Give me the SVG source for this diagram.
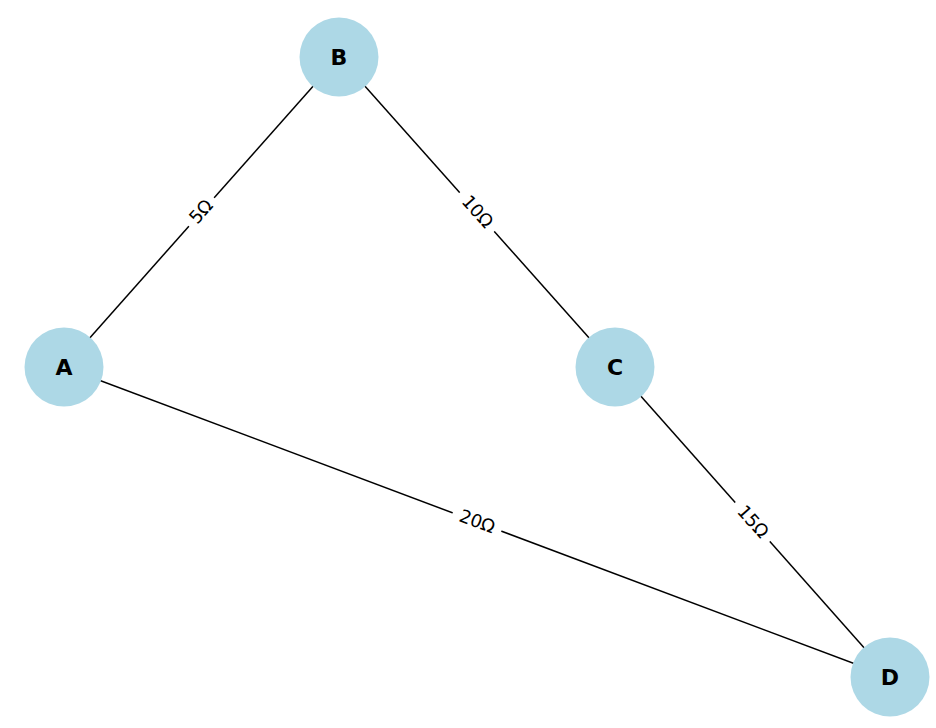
<svg xmlns="http://www.w3.org/2000/svg" width="936" height="728" viewBox="0 0 936 728">
<style>
.edge{stroke:#000;stroke-width:1.5;fill:none}
.node circle{fill:#add8e6}
.node text{font-family:"DejaVu Sans",sans-serif;font-weight:bold;fill:#000;text-anchor:middle;dominant-baseline:central}
.el rect{fill:#fff}
.el text{font-family:"DejaVu Sans",sans-serif;fill:#000;text-anchor:middle;dominant-baseline:central}
</style>
<rect width="936" height="728" fill="#fff"/>
<g id="connectors">
<line class="edge" x1="64" y1="367" x2="339" y2="57"/>
<line class="edge" x1="339" y1="57" x2="615" y2="367"/>
<line class="edge" x1="615" y1="367" x2="890" y2="677"/>
<line class="edge" x1="64" y1="367" x2="890" y2="677"/>
<g class="el" transform="translate(201.5,212) rotate(-48.4)"><rect x="-19" y="-11" width="38" height="22"/><text font-size="18" y="-1">5Ω</text></g>
<g class="el" transform="translate(477,212) rotate(48.3)"><rect x="-26" y="-11" width="52" height="22"/><text font-size="18" y="-1">10Ω</text></g>
<g class="el" transform="translate(752.5,522) rotate(48.4)"><rect x="-26" y="-11" width="52" height="22"/><text font-size="18" y="-1">15Ω</text></g>
<g class="el" transform="translate(477,522) rotate(20.6)"><rect x="-26" y="-11" width="52" height="22"/><text font-size="18" y="-1">20Ω</text></g>
</g>
<g id="A" class="node"><circle cx="64" cy="367" r="39.5"/><text x="64" y="367" font-size="22">A</text></g>
<g id="B" class="node"><circle cx="339" cy="57" r="39.5"/><text x="339" y="57" font-size="22">B</text></g>
<g id="C" class="node"><circle cx="615" cy="367" r="39.5"/><text x="615" y="367" font-size="22">C</text></g>
<g id="D" class="node"><circle cx="890" cy="677" r="39.5"/><text x="890" y="677" font-size="22">D</text></g>
</svg>
